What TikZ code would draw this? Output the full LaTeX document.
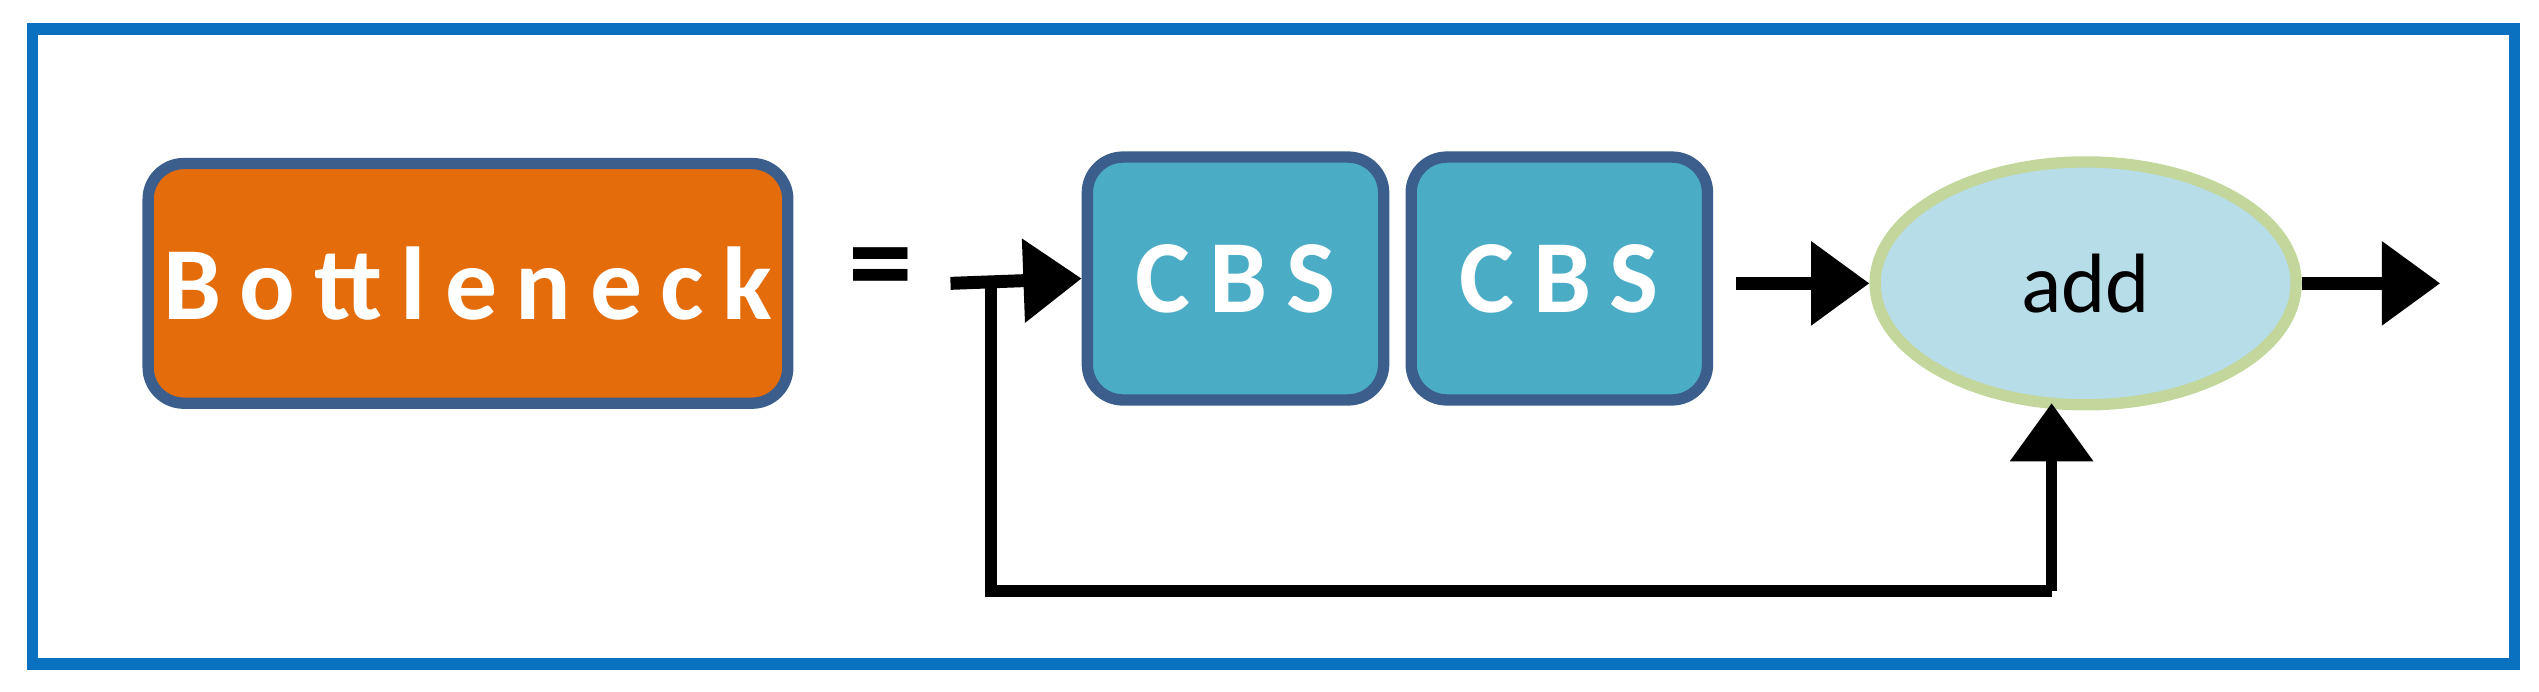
\documentclass[tikz,border=0pt]{standalone}
\usepackage{fontspec}
\setmainfont{Carlito}
\usetikzlibrary{shapes.geometric,arrows.meta}
\definecolor{frameblue}{HTML}{0A70C0}
\definecolor{boxedge}{HTML}{3B5E8C}
\definecolor{orangef}{HTML}{E46C0A}
\definecolor{cbsf}{HTML}{4BACC6}
\definecolor{addf}{HTML}{B7DDE8}
\definecolor{adde}{HTML}{C3D69B}
\begin{document}
\begin{tikzpicture}[x=1pt,y=-1pt,
  blk/.style={draw=boxedge,line width=7pt,rounded corners=22pt,text=white,font=\fontsize{64}{64}\selectfont\bfseries\addfontfeatures{LetterSpace=18}},
  arr/.style={line width=8pt,-{Triangle[length=36pt,width=50pt]}},
  fb/.style={line width=7pt}]
\useasboundingbox (0,0) rectangle (1568,427);
\draw[frameblue,line width=7pt] (20,18) rectangle (1553,410);
\node[blk,fill=orangef,minimum width=395pt,minimum height=148pt] (bn) at (289,175) {Bottleneck};
\node[font=\fontsize{80}{80}\selectfont\bfseries] (eq) at (544,171) {=};
\node[blk,fill=cbsf,minimum width=183pt,minimum height=150pt] (c1) at (763,172) {CBS};
\node[blk,fill=cbsf,minimum width=183pt,minimum height=150pt] (c2) at (963,172) {CBS};
\node[ellipse,draw=adde,fill=addf,line width=7pt,minimum width=260pt,minimum height=150pt,font=\fontsize{52}{52}\selectfont] (add) at (1288,175) {add};
\coordinate (s) at (587,175);
\coordinate (j) at (612,175);
\coordinate (o) at (1507,175);
\coordinate (b1) at (612,365);
\coordinate (b2) at (1267,365);
\draw[arr] (s) -- (c1.west);
\draw[arr] (c2.east) ++(14,3) coordinate (a2s) -- (add.west);
\draw[arr] (add.east) -- (o);
\draw[fb] (j) -- (b1) -- (b2);
\draw[fb,-{Triangle[length=36pt,width=50pt]}] (b2) -- (1267,249);
\end{tikzpicture}
\end{document}
